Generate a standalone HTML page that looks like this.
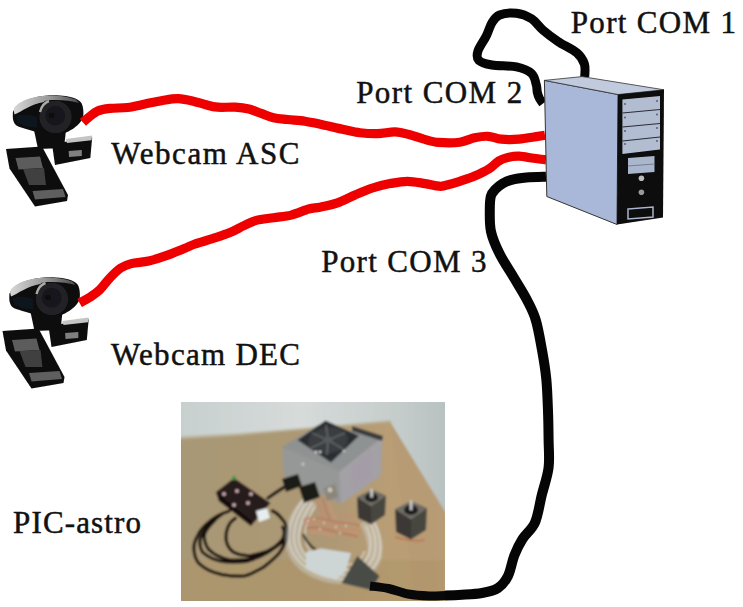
<!DOCTYPE html>
<html><head><meta charset="utf-8">
<style>
html,body{margin:0;padding:0;background:#fff;width:743px;height:607px;overflow:hidden}
svg{position:absolute;left:0;top:0;display:block}
text{font-family:"Liberation Serif",serif;font-size:31px;fill:#111;stroke:#111;stroke-width:0.5px}
</style></head><body>
<svg width="743" height="607" viewBox="0 0 743 607">
<defs>
<filter id="soft" x="-10%" y="-10%" width="120%" height="120%"><feGaussianBlur stdDeviation="0.6"/></filter>
<clipPath id="photoclip"><rect x="181" y="402" width="264" height="199"/></clipPath>
<linearGradient id="wallg" x1="0" y1="0" x2="1" y2="0"><stop offset="0" stop-color="#c6cfcd"/><stop offset="0.45" stop-color="#d6dbda"/><stop offset="0.8" stop-color="#c4ccca"/><stop offset="1" stop-color="#b4bebe"/></linearGradient>
<linearGradient id="tableg" gradientUnits="userSpaceOnUse" x1="181" y1="0" x2="445" y2="0"><stop offset="0" stop-color="#a89876"/><stop offset="0.55" stop-color="#ad9874"/><stop offset="0.8" stop-color="#b99e74"/><stop offset="1" stop-color="#bca076"/></linearGradient>
<filter id="soft2" x="-10%" y="-10%" width="120%" height="120%"><feGaussianBlur stdDeviation="1.2"/></filter>
<g id="cam">
  <!-- base slab -->
  <path d="M6,149 L42,146.5 L68,195 L67,201 L35,206.5 L9.5,168.5 Z" fill="#0c0c0c"/>
  <path d="M15.5,158 L40,156.5 L43,168 L18.5,169.5 Z" fill="#5c5c5c"/>
  <path d="M23,169 L44,168 L46,185 L29,185 Z" fill="#404040"/>
  <path d="M32.5,191 L63,189 L65.5,197 L35,199.5 Z" fill="#5e5e5e"/>
  <!-- neck -->
  <path d="M34,130 L66,130 L64,148 L38,149 Z" fill="#0e0e0e"/>
  <!-- clip -->
  <path d="M52,144 L92.2,137.3 L90.3,158 L55,165 Z" fill="#0c0c0c"/>
  <path d="M65.8,139 L92.2,135.6 L91.5,140.3 L67,143 Z" fill="#c4c4c4"/>
  <path d="M68.6,151 L81.8,150 L81.8,156 L69,157 Z" fill="#808080"/>
  <!-- head -->
  <path d="M12.9,111.8 C13.6,110.8 14.4,107.8 17.1,105.7 C19.8,103.6 24.1,100.8 29.2,99.1 C34.2,97.4 41.3,96.0 47.4,95.5 C53.5,95.0 60.5,95.4 65.6,96.1 C70.6,96.8 74.9,98.1 77.7,99.7 C80.5,101.3 81.7,102.7 82.5,105.7 C83.3,108.7 84.0,114.4 82.8,117.9 C81.6,121.5 78.1,124.6 75.3,127.0 C72.5,129.4 69.2,131.1 66.0,132.5 C62.8,133.9 59.9,135.4 55.9,135.5 C51.9,135.6 47.0,134.3 42.0,133.2 C37.0,132.1 30.2,130.3 26.0,129.0 C21.8,127.7 18.6,127.0 16.5,125.5 C14.4,124.0 13.8,122.3 13.2,120.0 C12.6,117.7 12.9,113.2 12.9,111.8 Z" fill="#0a0a0c"/>
  <path d="M14,108 C18,102 28,98 40,96.2 C52,94.8 66,95.5 76,99.5 L79,103 C70,100.5 58,99.5 47,100.5 C35,102 25,106 15.5,113 Z" fill="url(#hl)"/>
  <path d="M13.5,110 C15,107 20,102 29,99.5 C35,97.8 41,97 47,96.8 L44,102 C38,103 32,105 27,108 C22,110.5 18,113 14.5,114.5 Z" fill="url(#hl2)"/>
  <circle cx="55.5" cy="117" r="16.2" fill="#222227"/>
  <path d="M40,112 C41.5,106 44.5,102.5 49,101" fill="none" stroke="#aaaaaa" stroke-width="2.4"/>
  <circle cx="55.2" cy="115.8" r="10" fill="#18181c"/>
  <circle cx="51.6" cy="115.4" r="3" fill="#0c0c10"/>
  <path d="M16,116 C22,114 30,114 37,117 L37,128 C30,128 23,126 17,123 Z" fill="#141a26" opacity="0.55"/>
</g>
<linearGradient id="hl2" x1="0" y1="0" x2="1" y2="0"><stop offset="0" stop-color="#d8d8d8"/><stop offset="1" stop-color="#9a9a9a"/></linearGradient>
<linearGradient id="hl" x1="0" y1="0" x2="1" y2="0"><stop offset="0" stop-color="#d4d4d4"/><stop offset="0.45" stop-color="#a8a8a8"/><stop offset="1" stop-color="#4a4a4a"/></linearGradient>
</defs>
<rect width="743" height="607" fill="#fff"/>

<!-- webcams -->
<g filter="url(#soft)">
<use href="#cam"/>
<use href="#cam" transform="translate(-3.5,182)"/>
</g>

<!-- red cables -->
<g fill="none" stroke="#ee0000" stroke-width="9.2" stroke-linecap="butt" stroke-linejoin="round">
<path d="M82.9,122.4 C83.9,121.5 86.5,119.0 89.0,117.1 C91.5,115.2 94.2,112.5 97.7,111.0 C101.2,109.5 105.0,109.0 110.0,108.4 C115.0,107.8 121.7,108.2 127.5,107.5 C133.3,106.8 139.2,105.2 145.0,104.0 C150.8,102.8 157.0,101.4 162.5,100.5 C168.0,99.6 172.9,98.5 178.2,98.7 C183.4,98.9 189.5,100.4 194.0,101.4 C198.5,102.4 201.1,103.5 205.0,104.5 C208.9,105.5 212.5,106.8 217.5,107.2 C222.5,107.7 229.8,106.9 235.0,107.2 C240.2,107.5 244.6,108.0 249.0,109.0 C253.4,110.0 257.1,112.0 261.2,113.4 C265.3,114.9 269.1,116.7 273.5,117.7 C277.9,118.7 282.2,118.9 287.5,119.5 C292.8,120.1 299.2,120.3 305.0,121.2 C310.8,122.1 316.2,123.4 322.5,124.7 C328.8,126.0 336.2,127.9 342.5,129.2 C348.8,130.5 354.2,132.0 360.0,132.7 C365.8,133.4 371.7,133.7 377.5,133.6 C383.3,133.5 389.8,131.8 395.0,131.9 C400.2,132.1 404.3,133.3 409.0,134.5 C413.7,135.7 418.1,137.6 423.0,138.9 C427.9,140.2 432.6,141.9 438.7,142.4 C444.8,142.9 453.8,143.0 459.8,142.2 C465.8,141.4 469.9,138.8 474.6,137.8 C479.3,136.8 483.6,136.1 488.0,136.3 C492.4,136.5 496.1,138.7 501.3,139.2 C506.5,139.7 513.6,139.6 519.0,139.2 C524.4,138.8 529.5,137.7 533.8,137.0 C538.1,136.3 543.1,135.5 545.0,135.2"/>
<path d="M79.6,303.0 C81.2,302.1 85.8,299.9 89.2,297.7 C92.6,295.5 96.2,293.2 99.7,289.9 C103.2,286.5 106.7,281.2 110.2,277.6 C113.7,274.0 117.2,270.3 120.7,268.0 C124.2,265.7 126.5,264.8 131.2,263.6 C135.9,262.4 142.9,262.3 148.7,261.0 C154.5,259.7 160.4,257.8 166.2,255.7 C172.0,253.6 178.9,250.6 183.7,248.7 C188.5,246.8 190.2,245.7 195.0,244.0 C199.8,242.3 206.7,240.6 212.5,238.7 C218.3,236.8 224.8,234.8 230.0,232.6 C235.2,230.4 239.6,227.6 244.0,225.6 C248.4,223.6 251.2,221.7 256.2,220.4 C261.1,219.1 267.9,218.6 273.7,217.7 C279.5,216.8 285.4,216.5 291.2,215.1 C297.0,213.7 303.9,210.3 308.7,209.0 C313.5,207.7 315.2,208.2 320.0,207.2 C324.8,206.2 331.7,204.9 337.5,202.9 C343.3,200.9 349.2,197.5 355.0,195.0 C360.8,192.5 366.7,189.9 372.5,188.0 C378.3,186.1 384.2,184.7 390.0,183.6 C395.8,182.5 401.7,181.3 407.5,181.3 C413.3,181.3 419.8,182.8 425.0,183.6 C430.2,184.4 435.7,185.9 439.0,186.2 C442.3,186.5 441.5,186.3 445.0,185.5 C448.5,184.7 454.9,182.9 459.8,181.3 C464.7,179.7 469.7,178.2 474.6,176.1 C479.5,174.0 485.4,171.2 489.4,168.7 C493.3,166.2 495.3,163.2 498.3,161.3 C501.3,159.5 503.8,158.5 507.2,157.6 C510.6,156.7 514.6,156.0 519.0,156.1 C523.4,156.2 529.3,157.7 533.8,158.3 C538.3,158.9 544.0,159.6 546.0,159.8"/>
</g>

<!-- black cables -->
<g fill="none" stroke="#050505" stroke-linecap="butt" stroke-linejoin="round">
<path d="M584.7,77.0 C584.7,74.8 585.7,68.0 584.4,64.0 C583.1,60.0 581.2,56.5 576.8,52.8 C572.4,49.0 563.6,45.3 558.0,41.5 C552.4,37.7 547.4,33.9 543.0,30.1 C538.6,26.3 536.0,21.6 531.6,18.8 C527.2,16.0 521.8,13.8 516.5,13.2 C511.2,12.6 503.7,13.4 499.6,15.0 C495.5,16.6 494.2,19.1 492.0,22.6 C489.8,26.1 488.7,31.1 486.4,35.8 C484.1,40.5 479.3,46.8 478.0,50.9 C476.7,55.0 476.5,57.9 478.8,60.3 C481.1,62.6 485.7,63.9 492.0,65.0 C498.3,66.1 509.9,65.5 516.5,66.9 C523.1,68.3 528.3,70.5 531.6,73.5 C534.9,76.5 535.3,81.7 536.3,84.8 C537.2,87.9 536.8,90.0 537.3,92.3 C537.8,94.6 538.5,96.6 539.5,98.5 C540.5,100.4 542.4,102.7 543.0,103.5" stroke-width="9"/>
<path d="M546.0,176.8 C542.7,176.9 532.1,177.1 526.4,177.6 C520.7,178.1 515.6,178.8 511.6,179.8 C507.7,180.8 505.4,181.9 502.7,183.5 C500.0,185.1 497.3,187.3 495.3,189.4 C493.3,191.5 491.8,192.7 490.9,196.0 C490.0,199.3 489.8,203.5 489.8,209.4 C489.8,215.3 489.4,224.2 491.0,231.6 C492.6,239.0 495.7,246.0 499.6,253.8 C503.5,261.6 509.8,270.8 514.4,278.5 C519.0,286.2 523.5,293.1 527.0,300.0 C530.5,306.9 533.2,311.6 535.7,319.8 C538.2,328.0 540.1,339.5 541.9,349.4 C543.7,359.3 545.3,368.7 546.3,379.0 C547.3,389.3 547.6,400.8 548.0,411.0 C548.4,421.2 548.5,430.6 548.6,440.0 C548.7,449.4 549.7,458.3 548.6,467.5 C547.5,476.7 544.1,485.8 541.8,495.0 C539.5,504.2 538.2,515.2 535.0,522.5 C531.8,529.8 526.0,533.5 522.5,539.0 C519.0,544.5 516.7,549.3 514.3,555.5 C511.9,561.7 510.7,570.6 508.0,576.0 C505.3,581.4 502.3,585.2 498.0,588.0 C493.7,590.8 488.0,591.9 482.0,593.0 C476.0,594.1 468.2,594.4 462.0,594.8 C455.8,595.2 450.5,595.4 445.0,595.6 C439.5,595.8 435.2,596.3 429.0,596.0 C422.8,595.7 414.8,595.2 408.0,594.0 C401.2,592.8 394.8,589.8 388.5,588.5 C382.2,587.2 373.1,586.4 370.0,586.0" stroke-width="10"/>
</g>

<!-- PC tower -->
<g filter="url(#soft)">
<path d="M544.4,80.4 L618,94.5 L617,224.5 L546.8,196.5 Z" fill="#a9b8d9" stroke="#333" stroke-width="1"/>
<path d="M544.4,80.4 L582,76.6 L664,89.8 L618,94.5 Z" fill="#c2cbde" stroke="#333" stroke-width="0.8"/>
<path d="M618,94.5 L664,89.8 L663,217.5 L617,224.5 Z" fill="#080808"/>
<path d="M622.4,99.5 L660,96 L660,149.5 L622.4,154 Z" fill="#b3bdd2"/>
<path d="M622.4,113 L660,109.5" stroke="#2a2e38" stroke-width="1.2"/>
<path d="M622.4,127 L660,123.5" stroke="#2a2e38" stroke-width="1.2"/>
<path d="M622.4,141 L660,137" stroke="#2a2e38" stroke-width="1.2"/>
<circle cx="625" cy="104" r="0.9" fill="#556"/><circle cx="657" cy="101" r="0.9" fill="#556"/>
<circle cx="625" cy="117.5" r="0.9" fill="#556"/><circle cx="657" cy="114.5" r="0.9" fill="#556"/>
<circle cx="625" cy="131" r="0.9" fill="#556"/><circle cx="657" cy="128" r="0.9" fill="#556"/>
<circle cx="625" cy="144" r="0.9" fill="#556"/><circle cx="657" cy="141" r="0.9" fill="#556"/>
<path d="M628,158 L654.5,156 L654.5,172 L628,174 Z" fill="#aab6cc"/>
<path d="M628,166 L654.5,164" stroke="#6a7080" stroke-width="0.8"/>
<circle cx="641.4" cy="178.3" r="2.8" fill="#bbb"/>
<circle cx="641.4" cy="192.3" r="2.8" fill="#999"/>
<path d="M628,209 L653,207 L653,217 L628,219 Z" fill="none" stroke="#aab6cc" stroke-width="1.5"/>
</g>

<!-- photo -->
<g clip-path="url(#photoclip)">
<g filter="url(#soft2)">
<rect x="170" y="395" width="290" height="215" fill="url(#tableg)"/>
<path d="M390,421.4 L445,511.4 L445,601 L415,601 Z" fill="#b49a74" opacity="0.6"/>
<path d="M181,560 L445,560 L445,601 L181,601 Z" fill="#ad9468" opacity="0.5"/>
<path d="M170,395 L460,395 L460,530 L445,511.4 L390,421.4 L293,430 L236.5,434.9 L170,439 Z" fill="url(#wallg)"/>
<path d="M181,436 L236.5,433 L293,428.5 L390,420 L392,423 L293,431.5 L236.5,436.5 L181,440 Z" fill="#b8aa8a" opacity="0.6"/>
<!-- black cable loops (left) -->
<g fill="none" stroke="#16110c" stroke-width="3.2" stroke-linecap="round">
<path d="M229.4,510.9 C220,514 216,516 211.6,519.8 C205,525 200,530 198.3,534.6 C195,540 193.5,545 193.9,549.4 C194.5,556 196,561 199.8,564.2 C206,570 214,573 222,574.6 C230,576 238,576.5 244.2,576 C252,574 258,570 263.5,567.2 C270,562 276,557 279.7,552.4 C284,546 287,540 287.1,534.6 C287.5,528 286,523 282.7,519.8 C279,515 276,512 272.3,510.9"/>
<path d="M222,513.9 C214,520 209,524 205.7,528.7 C202,534 200,538 199.8,542 C200,547 201,550 202.8,552.4 C208,557 214,560 222,561.3 C230,562.5 240,562 247.2,561.3 C255,559 262,556 267.9,552.4 C274,548 279,544 282.7,539 C285,534 284.5,530 282.7,527.2"/>
<path d="M215,520 C208,527 204,532 204.2,536 C204.5,542 206,546 208.7,549.4 C214,555 221,558 229.4,559.8 C240,561 252,559 262,555 C272,550 279,545 284,540"/>
<path d="M235.3,518.3 C231,521 229,524 227.9,527.2 C226,532 225.5,537 226.5,542 C228,547 230,550 233.9,552.4 C239,555 245,556 251.6,555.3 C258,554 263,552.5 267.9,550.9 C273,548 278,545 282.7,542"/>
<path d="M268,498 C275,493 282,488 290,484"/>
</g>
<!-- white ribbon bundle -->
<path d="M312,500 C304,507 298,515 295,524 C292,534 292,545 296,553 C301,563 313,571 328,575 C342,578 356,576 365,570 C372,564 376,556 375,546 C374,537 371,528 366,520" fill="none" stroke="#cfd1cd" stroke-width="15" opacity="0.45"/>
<g fill="none" stroke="#e6e6e2" stroke-width="1.5" opacity="0.7">
<path d="M306,496 C297,507 290,520 289,534 C288,548 295,560 308,569 C320,577 335,580 350,579 C364,577 374,570 379,558 C382,546 380,533 374,522"/>
<path d="M309,499 C301,509 295,521 294,534 C293,547 299,558 311,566 C322,573 336,576 349,575 C361,573 370,567 374,556 C377,545 375,533 370,523"/>
<path d="M312,503 C305,512 300,523 299,535 C298,546 303,555 314,562 C324,568 337,571 348,570 C358,569 365,563 369,554 C372,544 370,534 366,526"/>
<path d="M315,507 C309,516 305,525 305,535 C305,545 309,552 318,558 C327,563 338,566 347,565 C356,564 362,559 365,551"/>
</g>
<path d="M303,534 C306,541 310,546 316,550" fill="none" stroke="#2a2622" stroke-width="2.2"/>
<!-- orange wires -->
<g fill="none" stroke-width="1.6" opacity="0.8">
<path d="M303,520 C312,516 322,518 332,521 C342,524 352,522 360,526" stroke="#cc6a5a"/>
<path d="M305,524 C315,521 325,524 335,527 C345,530 354,528 362,532" stroke="#d8806a"/>
<path d="M306,528 C316,526 326,529 336,532 C346,535 352,534 358,537" stroke="#c86858"/>
<path d="M310,532 C318,531 326,534 334,536" stroke="#d8907a"/>
<path d="M318,500 C320,506 321,512 324,518" stroke="#d08070"/>
<path d="M322,498 C325,505 326,512 330,519" stroke="#c87060"/>
<path d="M328,500 C330,507 332,513 336,520" stroke="#d89080"/>
<path d="M340,514 C345,516 350,518 355,516" stroke="#d08a70"/>
</g>
<g fill="#f0e8e0" opacity="0.8">
<circle cx="314" cy="519" r="0.9"/><circle cx="324" cy="523" r="0.9"/><circle cx="336" cy="527" r="0.9"/><circle cx="346" cy="526" r="0.9"/><circle cx="320" cy="529" r="0.9"/><circle cx="340" cy="533" r="0.9"/>
</g>
<!-- power supply -->
<path d="M282.2,446.9 L339.3,471.3 L340.8,504 L283.7,475.8 Z" fill="#959896"/>
<path d="M339.3,471.3 L382.3,437.2 L380.8,475.8 L340.8,504 Z" fill="#a3a0a6"/>
<path d="M352,466 L372,450 L371,478 L353,490 Z" fill="#a59aa8" opacity="0.6"/>
<path d="M282.2,446.9 L318,425 L382.3,437.2 L339.3,471.3 Z" fill="#8e9292"/>
<path d="M297.5,440 L325.5,420.6 L359,435.7 L331,462.6 Z" fill="#2c2f30"/>
<ellipse cx="328" cy="440.5" rx="20" ry="13" transform="rotate(-8 328 440.5)" fill="#3a3e40"/>
<g stroke="#6c7072" stroke-width="1.3">
<path d="M328,440 L312,433 M328,440 L326,425 M328,440 L345,433 M328,440 L343,449 M328,440 L327,455 M328,440 L311,448"/>
</g>
<ellipse cx="328" cy="440" rx="5" ry="3.5" fill="#55595c"/>
<circle cx="316" cy="452" r="1.3" fill="#ddd"/><circle cx="320" cy="452" r="1.3" fill="#ddd"/><circle cx="344" cy="451" r="1.3" fill="#ccc"/>
<path d="M352,426 L383,436 L382,441 L352,431 Z" fill="#3a3a3c"/>
<circle cx="303" cy="464" r="1.5" fill="#ccc"/>
<!-- PSU front connectors -->
<path d="M282,479 L298,474 L302,486 L286,492 Z" fill="#1c1a18"/>
<path d="M299,487 L315,482 L320,497 L304,503 Z" fill="#1c1a18"/>
<path d="M324,488 L335,484 L338,497 L327,501 Z" fill="#8a867a"/>
<circle cx="330" cy="490" r="2.4" fill="#d0c8b8"/>
<!-- control box -->
<path d="M216,492 L234,478 L270.5,503 L251,526 L219,501 Z" fill="#261a1a"/>
<path d="M216,492 L219,501 L251,526 L251.6,521 Z" fill="#150e0e"/>
<circle cx="224" cy="494" r="1.8" fill="#e0c0c8"/>
<circle cx="237" cy="491" r="1.8" fill="#e0c0c8"/>
<circle cx="251" cy="494" r="1.8" fill="#e0c0c8"/>
<circle cx="234" cy="505" r="1.8" fill="#e0c0c8"/>
<circle cx="248" cy="503" r="1.8" fill="#e0c0c8"/>
<circle cx="234" cy="478" r="2.2" fill="#3a9a3a"/>
<path d="M256,511 L267,508 L270,518 L259,522 Z" fill="#e8eef0"/>
<!-- motors -->
<path d="M357,497 L371,506 L371,524.5 L358,518 Z" fill="#3a3935"/>
<path d="M371,506 L386,495.5 L385,515 L371,524.5 Z" fill="#474640"/>
<path d="M357,497 L372,489.5 L386,495.5 L371,506 Z" fill="#6e6c66"/>
<ellipse cx="371.5" cy="497.5" rx="6.5" ry="4.5" fill="#1c1c1c"/>
<rect x="370.3" y="489" width="2.6" height="8.5" fill="#d0d0d0"/>
<path d="M395,509 L411,519 L411,539.5 L396,532 Z" fill="#3a3935"/>
<path d="M411,519 L427,508 L426,530 L411,539.5 Z" fill="#474640"/>
<path d="M395,509 L411,501 L427,508 L411,519 Z" fill="#6e6c66"/>
<ellipse cx="411" cy="510" rx="7" ry="5" fill="#1c1c1c"/>
<rect x="409.8" y="500.5" width="2.6" height="9.5" fill="#d0d0d0"/>
<path d="M395,537 C405,540 415,542 425,540" fill="none" stroke="#c07050" stroke-width="1.5"/>
<!-- DB connector -->
<path d="M306,552 L321,548.5 L351,553 L346,570.5 L336,580 L306,569 Z" fill="#cdd6d5"/>
<path d="M357.4,556 L379.5,576 L371,590 L341.5,583 Z" fill="#4a4c46"/>
</g>
</g>

<!-- cable over photo -->
<path d="M546.0,176.8 C542.7,176.9 532.1,177.1 526.4,177.6 C520.7,178.1 515.6,178.8 511.6,179.8 C507.7,180.8 505.4,181.9 502.7,183.5 C500.0,185.1 497.3,187.3 495.3,189.4 C493.3,191.5 491.8,192.7 490.9,196.0 C490.0,199.3 489.8,203.5 489.8,209.4 C489.8,215.3 489.4,224.2 491.0,231.6 C492.6,239.0 495.7,246.0 499.6,253.8 C503.5,261.6 509.8,270.8 514.4,278.5 C519.0,286.2 523.5,293.1 527.0,300.0 C530.5,306.9 533.2,311.6 535.7,319.8 C538.2,328.0 540.1,339.5 541.9,349.4 C543.7,359.3 545.3,368.7 546.3,379.0 C547.3,389.3 547.6,400.8 548.0,411.0 C548.4,421.2 548.5,430.6 548.6,440.0 C548.7,449.4 549.7,458.3 548.6,467.5 C547.5,476.7 544.1,485.8 541.8,495.0 C539.5,504.2 538.2,515.2 535.0,522.5 C531.8,529.8 526.0,533.5 522.5,539.0 C519.0,544.5 516.7,549.3 514.3,555.5 C511.9,561.7 510.7,570.6 508.0,576.0 C505.3,581.4 502.3,585.2 498.0,588.0 C493.7,590.8 488.0,591.9 482.0,593.0 C476.0,594.1 468.2,594.4 462.0,594.8 C455.8,595.2 450.5,595.4 445.0,595.6 C439.5,595.8 435.2,596.3 429.0,596.0 C422.8,595.7 414.8,595.2 408.0,594.0 C401.2,592.8 394.8,589.8 388.5,588.5 C382.2,587.2 373.1,586.4 370.0,586.0" fill="none" stroke="#080808" stroke-width="9" stroke-linejoin="round" clip-path="url(#photoclip)"/>

<!-- texts -->
<text x="570.8" y="32.8" style="letter-spacing:1.31px">Port COM 1</text>
<text x="356.2" y="103" style="letter-spacing:1.42px">Port COM 2</text>
<text x="111.3" y="163.5" style="letter-spacing:1.58px">Webcam ASC</text>
<text x="321.2" y="272" style="letter-spacing:1.33px">Port COM 3</text>
<text x="111" y="365" style="letter-spacing:1.28px">Webcam DEC</text>
<text x="13" y="532.5" style="letter-spacing:1.16px">PIC-astro</text>
</svg>
</body></html>
